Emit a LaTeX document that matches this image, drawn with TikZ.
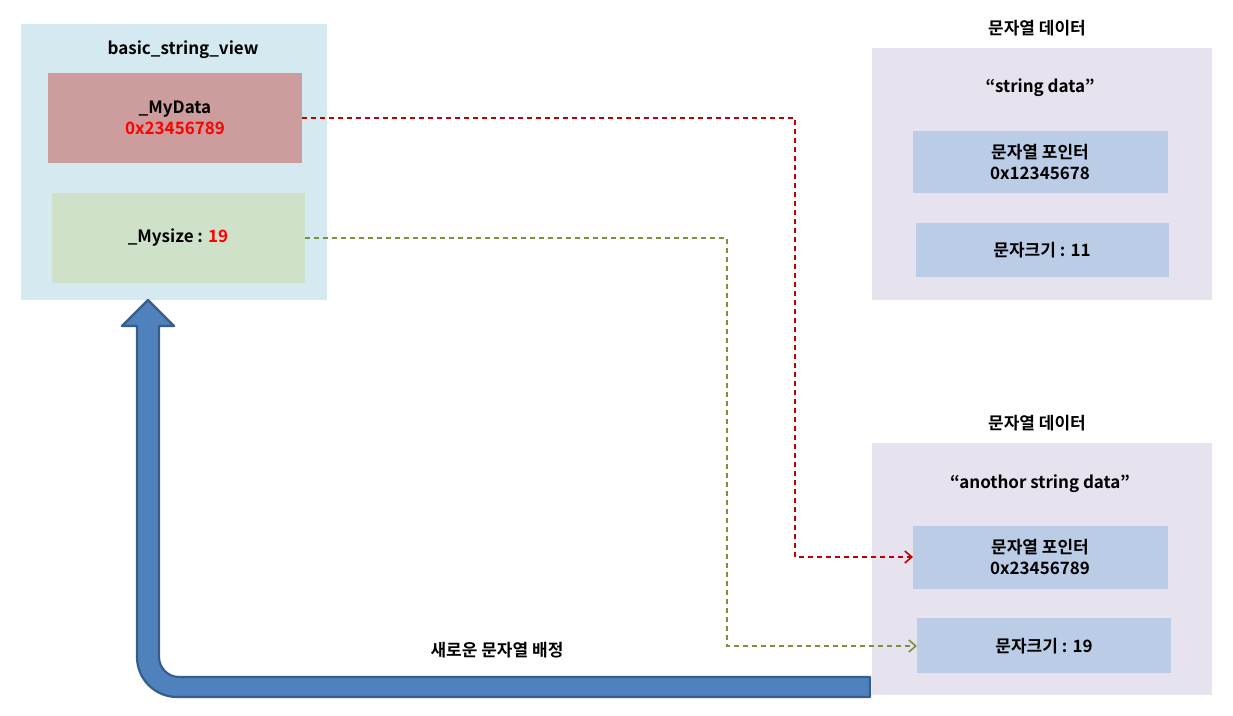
\documentclass[tikz,border=0pt]{standalone}
\usepackage{fontspec}
\setmainfont{Noto Sans CJK KR}[BoldFont={* Bold}]
\usetikzlibrary{arrows.meta}
\definecolor{cont}{HTML}{D5EAF0}
\definecolor{lav}{HTML}{E7E3EE}
\definecolor{redb}{HTML}{CD9C9D}
\definecolor{grnb}{HTML}{D0E1C9}
\definecolor{blub}{HTML}{BBCCE6}
\definecolor{arrf}{HTML}{4F81BD}
\definecolor{arrd}{HTML}{385D8A}
\definecolor{dred}{HTML}{C00000}
\definecolor{dgrn}{HTML}{77933C}
\tikzset{
 box/.style={inner sep=0pt, font=\fontsize{17}{21}\selectfont\bfseries, align=center},
 lbl/.style={font=\fontsize{17}{21}\selectfont\bfseries},
 conn/.style={dashed, line width=1.6pt, dash pattern=on 5pt off 4pt, -{Straight Barb[length=7pt,width=12pt]}},
}
\begin{document}
\begin{tikzpicture}[x=1pt,y=-1pt]
\useasboundingbox (0,0) rectangle (1233,715);
% left container
\fill[cont] (21,24) rectangle (327,300);
\node[lbl] (t0) at (183,50) {basic\_string\_view};
\fill[redb] (48,73) rectangle (302,163);
\node[box] (md) at (175,118) {\_MyData\\\textcolor{red}{0x23456789}};
\coordinate (mdR) at (302,118);
\fill[grnb] (52,193) rectangle (305,283);
\node[box] (ms) at (178,238) {\_Mysize : \textcolor{red}{19}};
\coordinate (msR) at (305,238);
% right top
\fill[lav] (872,48) rectangle (1212,300);
\node[lbl] (t1) at (1037,28) {문자열 데이터};
\node[lbl] (s1) at (1040,88) {“string data”};
\fill[blub] (913,131) rectangle (1168,193);
\node[box] (p1) at (1040,162) {문자열 포인터\\0x12345678};
\fill[blub] (916,223) rectangle (1169,277);
\node[box] (z1) at (1042,250) {문자크기 : 11};
% right bottom
\fill[lav] (872,443) rectangle (1212,695);
\node[lbl] (t2) at (1037,423) {문자열 데이터};
\node[lbl] (s2) at (1040,484) {“anothor string data”};
\fill[blub] (913,526) rectangle (1168,589);
\node[box] (p2) at (1040,557) {문자열 포인터\\0x23456789};
\coordinate (p2L) at (913,557);
\fill[blub] (917,618) rectangle (1171,673);
\node[box] (z2) at (1044,646) {문자크기 : 19};
\coordinate (z2L) at (917,646);
% connectors
\draw[conn, dred] (mdR) -- (795,118) -- (795,557) -- (p2L);
\draw[conn, dgrn] (msR) -- (727,238) -- (727,646) -- (z2L);
% big arrow
\draw[fill=arrf, draw=arrd, line width=2.2pt, line join=round]
 (870,677) -- (179,677) .. controls (168,677) and (159,668) .. (159,657)
 -- (159,326) -- (174,326) -- (148,300) -- (122,326) -- (137,326)
 -- (137,657) .. controls (137,679) and (155,697) .. (177,697) -- (870,697) -- cycle;
\node[lbl] (lab) at (497,650) {새로운 문자열 배정};
\end{tikzpicture}
\end{document}
